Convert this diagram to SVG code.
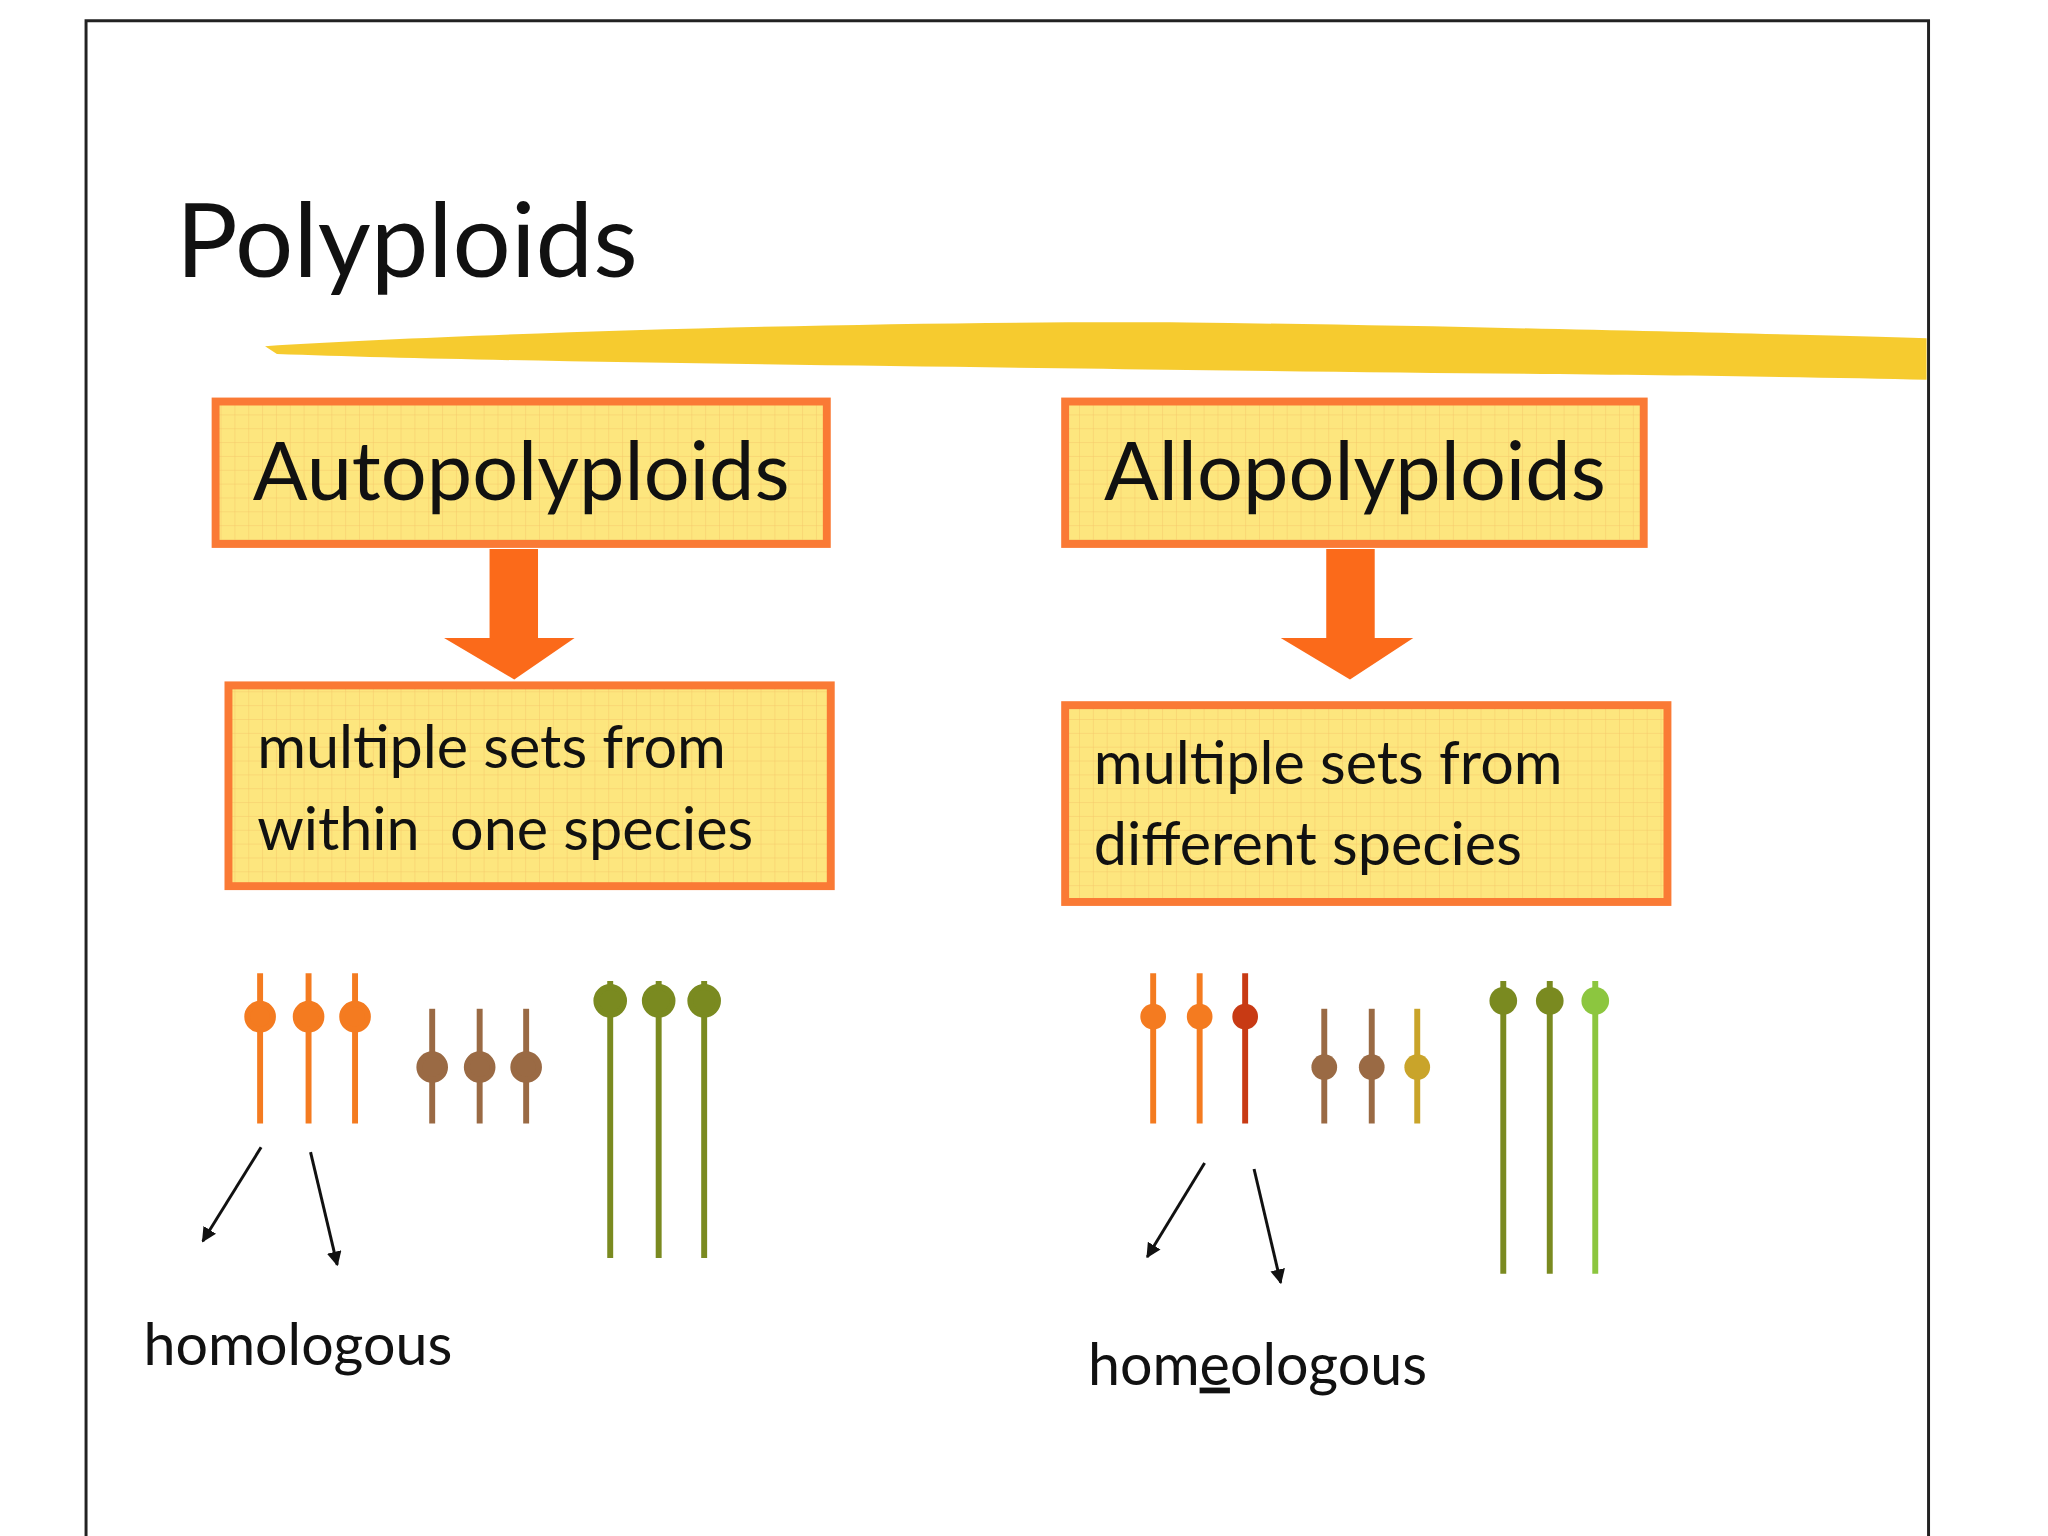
<svg xmlns="http://www.w3.org/2000/svg" width="2048" height="1536" viewBox="0 0 2048 1536">
<defs>
<pattern id="grid" width="14" height="14" patternUnits="userSpaceOnUse">
<rect width="14" height="14" fill="#fde67e"/>
<path d="M14 0V14M0 14H14" stroke="#f6c86a" stroke-width="1"/>
</pattern>
<marker id="ah" viewBox="0 0 10 10" refX="9" refY="5" markerWidth="5" markerHeight="5" orient="auto"><path d="M0 0L10 5L0 10z" fill="#111"/></marker>
<style>
.box{fill:url(#grid);stroke:#fa7a35;stroke-width:8}
.big{font-family:"Lato","Liberation Sans",sans-serif;font-size:82px;fill:#111}
.mid{font-family:"Lato","Liberation Sans",sans-serif;font-size:60px;fill:#111}
.lab{font-family:"Lato","Liberation Sans",sans-serif;font-size:58px;fill:#111}
.arr{fill:#fb6a1a}
.ptr{stroke:#111;stroke-width:3;marker-end:url(#ah)}
.chr{stroke-width:6;stroke-linecap:butt}
</style>
</defs>
<rect width="2048" height="1536" fill="#fff"/>
<g transform="scale(0.989)">
<path d="M87 1560V21H1950V1560" fill="none" stroke="#222" stroke-width="3"/>
<text x="178" y="280" font-family="Lato,'Liberation Sans',sans-serif" font-size="104" fill="#111">Polyploids</text>
<path d="M268 350C500 336 900 324 1200 326C1500 330 1800 338 1948 342L1948 384C1800 380 1500 378 1200 374C900 370 500 366 280 358Z" fill="#f5c518" opacity="0.9"/>
<g id="n-auto"><rect class="box" x="218" y="406" width="618" height="144"/><text class="big" x="527" y="506" text-anchor="middle">Autopolyploids</text></g>
<g id="n-allo"><rect class="box" x="1077" y="406" width="585" height="144"/><text class="big" x="1370" y="506" text-anchor="middle">Allopolyploids</text></g>
<g id="n-within"><rect class="box" x="231" y="693" width="609" height="203"/><text class="mid" x="260" y="777">multiple sets from</text><text class="mid" x="260" y="859" xml:space="preserve">within  one species</text></g>
<g id="n-diff"><rect class="box" x="1077" y="713" width="609" height="199"/><text class="mid" x="1106" y="793">multiple sets from</text><text class="mid" x="1106" y="875">different species</text></g>
<g id="connectors">
<path class="arr" d="M495 555H544V645H581L520 687L449 645H495Z"/>
<path class="arr" d="M1341 555H1390V645H1429L1365 687L1295 645H1341Z"/>
<line class="ptr" x1="264" y1="1160" x2="205" y2="1255"/>
<line class="ptr" x1="314" y1="1165" x2="341" y2="1279"/>
<line class="ptr" x1="1218" y1="1176" x2="1160" y2="1271"/>
<line class="ptr" x1="1268" y1="1182" x2="1295" y2="1297"/>
</g>
<g id="chromosomes-left">
<g stroke="#f47b20" fill="#f47b20" class="chr">
<line x1="263" y1="984" x2="263" y2="1136"/><circle cx="263" cy="1028" r="13"/>
<line x1="312" y1="984" x2="312" y2="1136"/><circle cx="312" cy="1028" r="13"/>
<line x1="359" y1="984" x2="359" y2="1136"/><circle cx="359" cy="1028" r="13"/>
</g>
<g stroke="#9a6a44" fill="#9a6a44" class="chr">
<line x1="437" y1="1020" x2="437" y2="1136"/><circle cx="437" cy="1079" r="13"/>
<line x1="485" y1="1020" x2="485" y2="1136"/><circle cx="485" cy="1079" r="13"/>
<line x1="532" y1="1020" x2="532" y2="1136"/><circle cx="532" cy="1079" r="13"/>
</g>
<g stroke="#7a8a20" fill="#7a8a20" class="chr">
<line x1="617" y1="992" x2="617" y2="1272"/><circle cx="617" cy="1012" r="14"/>
<line x1="666" y1="992" x2="666" y2="1272"/><circle cx="666" cy="1012" r="14"/>
<line x1="712" y1="992" x2="712" y2="1272"/><circle cx="712" cy="1012" r="14"/>
</g>
</g>
<g id="chromosomes-right">
<g class="chr">
<line x1="1166" y1="984" x2="1166" y2="1136" stroke="#f47b20"/><circle cx="1166" cy="1028" r="13" fill="#f47b20"/>
<line x1="1213" y1="984" x2="1213" y2="1136" stroke="#f47b20"/><circle cx="1213" cy="1028" r="13" fill="#f47b20"/>
<line x1="1259" y1="984" x2="1259" y2="1136" stroke="#c83a14"/><circle cx="1259" cy="1028" r="13" fill="#c83a14"/>
<line x1="1339" y1="1020" x2="1339" y2="1136" stroke="#9a6a44"/><circle cx="1339" cy="1079" r="13" fill="#9a6a44"/>
<line x1="1387" y1="1020" x2="1387" y2="1136" stroke="#9a6a44"/><circle cx="1387" cy="1079" r="13" fill="#9a6a44"/>
<line x1="1433" y1="1020" x2="1433" y2="1136" stroke="#c9a42a"/><circle cx="1433" cy="1079" r="13" fill="#c9a42a"/>
<line x1="1520" y1="992" x2="1520" y2="1288" stroke="#7a8a20"/><circle cx="1520" cy="1012" r="14" fill="#7a8a20"/>
<line x1="1567" y1="992" x2="1567" y2="1288" stroke="#7a8a20"/><circle cx="1567" cy="1012" r="14" fill="#7a8a20"/>
<line x1="1613" y1="992" x2="1613" y2="1288" stroke="#8cc63f"/><circle cx="1613" cy="1012" r="14" fill="#8cc63f"/>
</g>
</g>
<g id="n-homologous"><text class="lab" x="145" y="1380">homologous</text></g>
<g id="n-homeologous"><text class="lab" x="1100" y="1400">hom<tspan text-decoration="underline">e</tspan>ologous</text></g>
</g>
</svg>
